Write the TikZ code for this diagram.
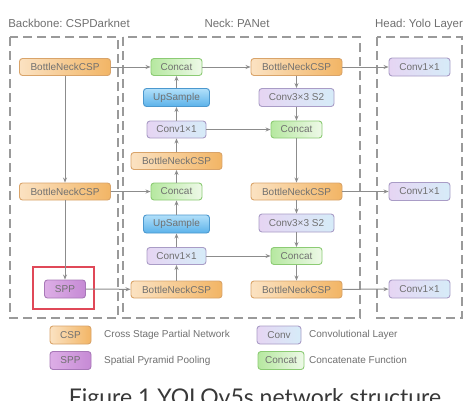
\documentclass[tikz,border=0pt]{standalone}
\usepackage{fontspec}
\setmainfont{Liberation Sans}
\newfontfamily\capfont{Lato}
\usetikzlibrary{arrows.meta}
\frenchspacing
\definecolor{txtgray}{HTML}{707070}
\definecolor{lngray}{HTML}{8C8C8C}
\definecolor{dashgray}{HTML}{9A9A9A}
\definecolor{cspL}{HTML}{FBE2C2}
\definecolor{cspR}{HTML}{F2B565}
\definecolor{cspD}{HTML}{D9A46A}
\definecolor{catL}{HTML}{B6E8A0}
\definecolor{catR}{HTML}{EEF9E8}
\definecolor{catD}{HTML}{8CCB74}
\definecolor{upT}{HTML}{B2E0FA}
\definecolor{upB}{HTML}{5BB2EA}
\definecolor{upD}{HTML}{4C98CE}
\definecolor{cvL}{HTML}{E6D5F3}
\definecolor{cvR}{HTML}{D6ECF8}
\definecolor{cvD}{HTML}{A99CC6}
\definecolor{sppL}{HTML}{DDAEE6}
\definecolor{sppR}{HTML}{C68AD5}
\definecolor{sppD}{HTML}{A878B8}
\definecolor{redbox}{HTML}{E04858}
\tikzset{
  blk/.style={rounded corners=3pt, line width=0.9pt, inner sep=0pt, minimum height=17pt,
     font=\fontsize{10}{10}\selectfont, text=txtgray},
  csp/.style={blk, draw=cspD, left color=cspL, right color=cspR, minimum width=91pt},
  cat/.style={blk, draw=catD, left color=catL, right color=catR, minimum width=51pt},
  ups/.style={blk, draw=upD, top color=upT, bottom color=upB, minimum width=66pt, minimum height=18pt},
  conv/.style={blk, draw=cvD, left color=cvL, right color=cvR, minimum width=59pt},
  spp/.style={blk, draw=sppD, left color=sppL, right color=sppR, minimum width=41pt, minimum height=18pt},
  arr/.style={draw=lngray, line width=1pt, -{Stealth[length=5pt,width=4pt]}},
  region/.style={draw=dashgray, line width=1.4pt, dash pattern=on 9pt off 5pt},
  ttl/.style={font=\fontsize{11.5}{11.5}\selectfont, text=txtgray, anchor=base},
  leg/.style={font=\fontsize{10}{10}\selectfont, text=txtgray, anchor=west, inner sep=0pt},
}
\begin{document}
\begin{tikzpicture}[x=1pt,y=-1pt]
\useasboundingbox[fill=white] (0,0) rectangle (474,400);
% regions
\draw[region] (10,37) rectangle (118,318);
\draw[region] (123,37) rectangle (360,318);
\draw[region] (377,37) rectangle (462,318);
\node[ttl] (t1) at (69,27) {Backbone: CSPDarknet};
\node[ttl] (t2) at (237,27) {Neck: PANet};
\node[ttl] (t3) at (419,27) {Head: Yolo Layer};
% backbone
\node[csp] (bb1) at (65,67) {BottleNeckCSP};
\node[csp] (bb5) at (65,191.5) {BottleNeckCSP};
\node[spp] (spp) at (65,289) {SPP};
\draw[redbox, line width=1.2pt] (33,267) rectangle (94,309);
% neck col 1
\node[cat] (c1) at (176.5,67) {Concat};
\node[ups] (u2) at (176.5,97.5) {UpSample};
\node[conv] (v3) at (176.5,129.5) {Conv1×1};
\node[csp] (n4) at (176.5,161) {BottleNeckCSP};
\node[cat] (c5) at (176.5,191.5) {Concat};
\node[ups] (u6) at (176.5,224) {UpSample};
\node[conv] (v7) at (176.5,256) {Conv1×1};
\node[csp] (n8) at (176.5,289.5) {BottleNeckCSP};
% neck col 2
\node[csp] (m1) at (296.5,67) {BottleNeckCSP};
\node[conv, minimum width=75pt, minimum height=18pt] (s2) at (296.5,97.5) {Conv3×3 S2};
\node[cat] (d3) at (296.5,129.5) {Concat};
\node[csp] (m5) at (296.5,191.5) {BottleNeckCSP};
\node[conv, minimum width=75pt, minimum height=18pt] (s6) at (296.5,223) {Conv3×3 S2};
\node[cat] (d7) at (296.5,256) {Concat};
\node[csp] (m8) at (296.5,289.5) {BottleNeckCSP};
% head
\node[conv, minimum width=61pt, minimum height=18pt] (h1) at (419.5,67) {Conv1×1};
\node[conv, minimum width=61pt, minimum height=18pt] (h5) at (419.5,191.5) {Conv1×1};
\node[conv, minimum width=61pt, minimum height=18pt] (h8) at (419.5,289) {Conv1×1};
% connectors backbone
\draw[arr] (bb1) -- (c1);
\draw[arr] (bb1) -- (bb5);
\draw[arr] (bb5) -- (c5);
\draw[arr] (bb5) -- (spp);
\draw[arr] (spp) -- (n8);
% col 1 upward
\draw[arr] (n8) -- (v7);
\draw[arr] (v7) -- (u6);
\draw[arr] (u6) -- (c5);
\draw[arr] (c5) -- (n4);
\draw[arr] (n4) -- (v3);
\draw[arr] (v3) -- (u2);
\draw[arr] (u2) -- (c1);
\draw[arr] (c1) -- (m1);
% col 2 downward
\draw[arr] (m1) -- (s2);
\draw[arr] (s2) -- (d3);
\draw[arr] (d3) -- (m5);
\draw[arr] (m5) -- (s6);
\draw[arr] (s6) -- (d7);
\draw[arr] (d7) -- (m8);
\draw[arr] (v3) -- (d3);
\draw[arr] (v7) -- (d7);
% head
\draw[arr] (m1) -- (h1);
\draw[arr] (m5) -- (h5);
\draw[arr] (m8) -- (h8);
% legend
\node[csp, minimum width=41pt, minimum height=18pt] (lg1) at (70.5,335) {CSP};
\node[leg] (lt1) at (104,334.5) {Cross Stage Partial Network};
\node[conv, minimum width=44pt, minimum height=18pt] (lg2) at (279,335) {Conv};
\node[leg] (lt2) at (309,334.5) {Convolutional Layer};
\node[spp, minimum width=41pt, minimum height=18pt] (lg3) at (70.5,360.5) {SPP};
\node[leg] (lt3) at (104,360.5) {Spatial Pyramid Pooling};
\node[cat, minimum width=46pt, minimum height=18pt] (lg4) at (281,360.5) {Concat};
\node[leg] (lt4) at (309,360) {Concatenate Function};
% caption
\node[font=\capfont\fontsize{23}{23}\selectfont, text=black!78, anchor=base] (cap) at (255,405) {Figure 1 YOLOv5s network structure};
\end{tikzpicture}
\end{document}
